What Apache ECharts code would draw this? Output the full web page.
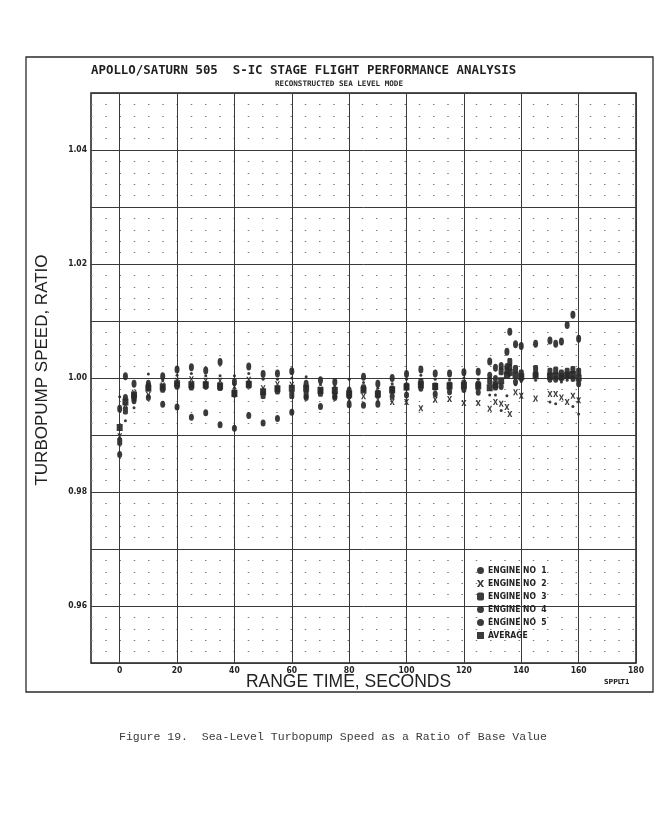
<!DOCTYPE html>
<html>
<head>
<meta charset="utf-8">
<script src="https://cdn.jsdelivr.net/npm/echarts@6/dist/echarts.min.js"></script>
<style>
  html, body { margin: 0; padding: 0; background: #fff; }
  #chartTurbopump { width: 672px; height: 827px; }
</style>
</head>
<body>
<div id="chartTurbopump"></div>
<script>
  // range time, seconds
  const times = [0, 2, 5, 10, 15, 20, 25, 30, 35, 40, 45, 50, 55, 60, 65, 70, 75, 80, 85, 90,
    95, 100, 105, 110, 115, 120, 125, 129, 131, 133, 135, 136, 138, 140, 145, 150, 152, 154, 156, 158, 160];

  const engine1 = [0.9946, 1.0003, 0.9990, 0.9990, 1.0003, 1.0015, 1.0019, 1.0013, 1.0028, 0.9993, 1.0020, 1.0007, 1.0008, 1.0012, 0.9990, 0.9996, 0.9993, 0.9978, 1.0002, 0.9990,
    1.0000, 1.0007, 1.0015, 1.0008, 1.0008, 1.0010, 1.0011, 1.0029, 1.0018, 1.0021, 1.0046, 1.0081, 1.0059, 1.0056, 1.0060, 1.0066, 1.0060, 1.0064, 1.0093, 1.0111, 1.0069];
  const engine2 = [0.9898, 0.9953, 0.9974, 0.9970, 0.9987, 0.9995, 0.9998, 0.9995, 0.9995, 0.9985, 0.9997, 0.9982, 0.9989, 0.9988, 0.9980, 0.9980, 0.9978, 0.9962, 0.9968, 0.9962,
    0.9958, 0.9958, 0.9947, 0.9962, 0.9963, 0.9956, 0.9956, 0.9946, 0.9958, 0.9955, 0.9949, 0.9937, 0.9975, 0.9969, 0.9964, 0.9972, 0.9972, 0.9966, 0.9958, 0.9969, 0.9961];
  const engine3 = [0.9888, 0.9943, 0.9966, 0.9984, 0.9981, 0.9987, 0.9985, 0.9987, 0.9984, 0.9973, 0.9988, 0.9970, 0.9978, 0.9970, 0.9970, 0.9974, 0.9970, 0.9970, 0.9982, 0.9972,
    0.9980, 0.9985, 0.9993, 0.9985, 0.9987, 0.9990, 0.9988, 0.9995, 0.9985, 1.0012, 1.0013, 1.0028, 1.0016, 1.0008, 1.0016, 1.0011, 1.0013, 1.0008, 1.0011, 1.0014, 1.0011];
  const engine4 = [0.9967, 0.9925, 0.9948, 1.0007, 0.9995, 1.0005, 1.0008, 1.0004, 1.0004, 1.0004, 1.0008, 0.9998, 0.9998, 1.0000, 1.0002, 0.9988, 0.9985, 0.9998, 0.9992, 0.9982,
    0.9990, 0.9998, 1.0005, 0.9998, 0.9997, 1.0000, 0.9998, 0.9970, 0.9970, 0.9943, 0.9969, 1.0005, 0.9988, 0.9994, 0.9996, 0.9958, 0.9955, 0.9993, 0.9996, 0.9950, 0.9937];
  const engine5 = [0.9866, 0.9966, 0.9960, 0.9966, 0.9954, 0.9949, 0.9931, 0.9939, 0.9918, 0.9912, 0.9934, 0.9921, 0.9929, 0.9940, 0.9966, 0.9950, 0.9966, 0.9953, 0.9952, 0.9954,
    0.9968, 0.9970, 0.9982, 0.9972, 0.9976, 0.9980, 0.9975, 1.0005, 0.9999, 0.9985, 1.0020, 1.0019, 0.9993, 1.0000, 1.0006, 0.9998, 0.9998, 1.0000, 1.0003, 0.9999, 0.9990];
  const average = [0.9913, 0.9958, 0.9970, 0.9982, 0.9984, 0.9990, 0.9988, 0.9988, 0.9986, 0.9973, 0.9989, 0.9976, 0.9981, 0.9982, 0.9982, 0.9978, 0.9978, 0.9972, 0.9979, 0.9972,
    0.9979, 0.9984, 0.9988, 0.9985, 0.9986, 0.9987, 0.9986, 0.9983, 0.9988, 0.9995, 1.0005, 1.0010, 1.0005, 1.0002, 1.0004, 1.0003, 1.0004, 1.0002, 1.0005, 1.0006, 1.0000];

  const seriesNames = ["ENGINE NO  1", "ENGINE NO  2", "ENGINE NO  3", "ENGINE NO  4", "ENGINE NO  5", "AVERAGE"];

  const ink = "#2a2a2a";
  const xSymbol = "path://M0,0L3,0L5,3.6L7,0L10,0L6.6,5L10,10L7,10L5,6.4L3,10L0,10L3.4,5Z";
  const boxSymbol = "path://M0,0L10,0L10,10L0,10Z M2,3L3,2L5,4L7,2L8,3L6,5L8,7L7,8L5,6L3,8L2,7L4,5Z";

  const pairs = (vals) => times.map((t, i) => [t, vals[i]]);

  const makeSeries = (name, vals, symbol, size) => ({
    name: name,
    type: "scatter",
    data: pairs(vals),
    symbol: symbol,
    symbolSize: size,
    itemStyle: { color: ink, opacity: 0.92 },
    emphasis: { disabled: true }
  });

  const option = {
    backgroundColor: "#ffffff",
    animation: false,
    title: [
      {
        text: "APOLLO/SATURN 505  S-IC STAGE FLIGHT PERFORMANCE ANALYSIS",
        left: 86,
        top: 60,
        textStyle: { fontFamily: "DejaVu Sans Mono", fontWeight: "bold", fontSize: 12.4, color: "#1e1e1e" }
      },
      {
        text: "RECONSTRUCTED SEA LEVEL MODE",
        left: 270,
        top: 75,
        textStyle: { fontFamily: "DejaVu Sans Mono", fontWeight: "bold", fontSize: 7.6, color: "#2a2a2a" }
      }
    ],
    legend: {
      orient: "vertical",
      left: 472,
      top: 561,
      itemGap: 4,
      itemWidth: 7,
      itemHeight: 8,
      data: seriesNames,
      textStyle: { fontFamily: "DejaVu Sans Condensed", fontWeight: "bold", fontSize: 8.5, color: "#222", padding: [0, 0, 0, -1] }
    },
    grid: {
      left: 91,
      right: 36,
      top: 93,
      bottom: 164,
      show: true,
      borderColor: "#1e1e1e",
      borderWidth: 1.5
    },
    xAxis: {
      type: "value",
      min: -10,
      max: 180,
      interval: 10,
      name: "RANGE TIME, SECONDS",
      nameLocation: "middle",
      nameGap: 10,
      nameMoveOverlap: false,
      nameTextStyle: { fontFamily: "Liberation Sans", fontSize: 17.5, color: "#222", padding: [0, 30, 0, 0] },
      axisLine: { show: false },
      axisTick: { show: false },
      axisLabel: {
        margin: 3,
        fontFamily: "DejaVu Sans Condensed",
        fontWeight: "bold",
        fontSize: 8.5,
        color: "#222",
        showMinLabel: false,
        formatter: (v) => (v % 20 === 0 ? String(v) : "")
      },
      splitLine: {
        show: true,
        showMinLine: true,
        lineStyle: { color: ["rgba(0,0,0,0)", "#3a3a3a"], width: 1 }
      }
    },
    yAxis: {
      type: "value",
      min: 0.95,
      max: 1.05,
      interval: 0.01,
      name: "TURBOPUMP SPEED, RATIO",
      nameLocation: "middle",
      nameGap: 40,
      nameTextStyle: { fontFamily: "Liberation Sans", fontSize: 17, color: "#222", padding: [0, 0, 0, 16] },
      axisLine: { show: false },
      axisTick: { show: false },
      axisLabel: {
        margin: 4,
        fontFamily: "DejaVu Sans Condensed",
        fontWeight: "bold",
        fontSize: 8.5,
        color: "#222",
        formatter: (v) => (Math.round(v * 100) % 2 === 0 ? v.toFixed(2) : "")
      },
      splitLine: { show: true, lineStyle: { color: "#3a3a3a", width: 1 } },
      minorTick: { show: false, splitNumber: 5 },
      minorSplitLine: {
        show: true,
        lineStyle: { color: "#7a7a7a", width: 1, type: [1.5, 12.75], dashOffset: 0 }
      }
    },
    graphic: [
      {
        type: "rect",
        shape: { x: 26, y: 57, width: 627, height: 635 },
        style: { fill: "none", stroke: "#2a2a2a", lineWidth: 1.3 },
        silent: true
      },
      {
        type: "text",
        left: 604,
        top: 679,
        style: { text: "SPPLT1", font: "bold 7px 'DejaVu Sans Condensed'", fill: "#222" }
      },
      {
        type: "text",
        left: 119,
        top: 731,
        style: {
          text: "Figure 19.  Sea-Level Turbopump Speed as a Ratio of Base Value",
          font: "11.5px 'Liberation Mono'",
          fill: "#3a3a3a"
        }
      }
    ],
    series: [
      makeSeries(seriesNames[0], engine1, "circle", [5, 8]),
      makeSeries(seriesNames[1], engine2, xSymbol, [5, 6]),
      makeSeries(seriesNames[2], engine3, "roundRect", [5, 8]),
      makeSeries(seriesNames[3], engine4, "circle", 3),
      makeSeries(seriesNames[4], engine5, "circle", [5, 7]),
      makeSeries(seriesNames[5], average, boxSymbol, [6, 7])
    ]
  };

  const chart = echarts.init(document.getElementById("chartTurbopump"));
  chart.setOption(option);
</script>
</body>
</html>
